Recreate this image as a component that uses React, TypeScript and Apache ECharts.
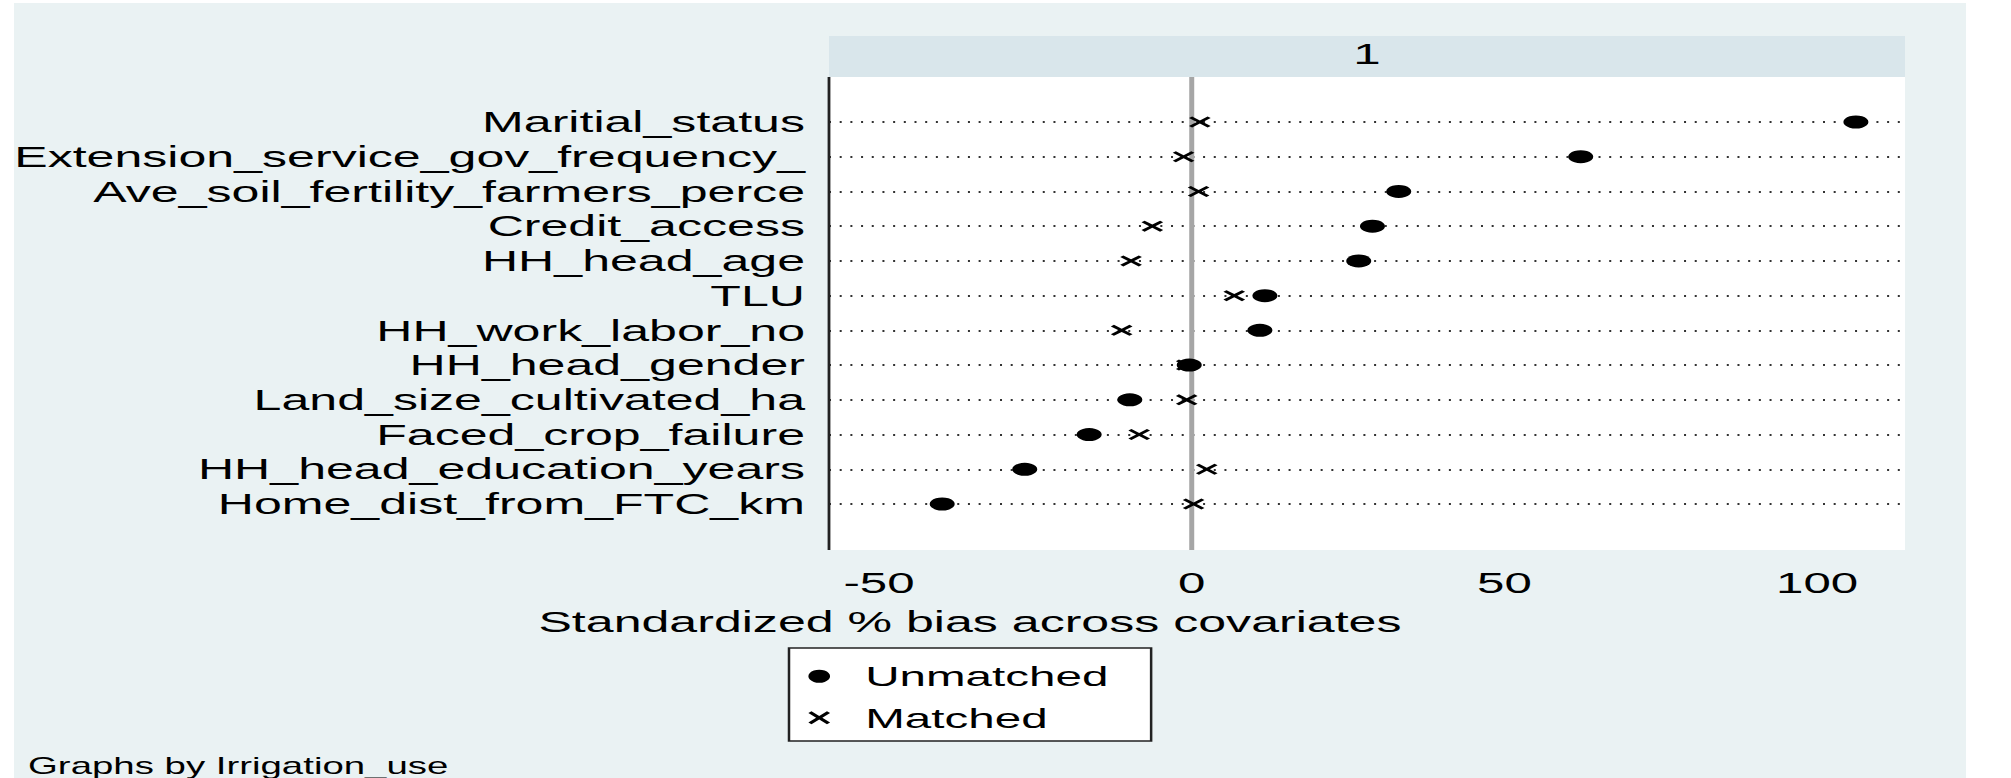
import { useEffect, useRef } from 'react';
import * as echarts from 'echarts';

// covariates, top to bottom
const covariates = [
  'Maritial_status',
  'Extension_service_gov_frequency_',
  'Ave_soil_fertility_farmers_perce',
  'Credit_access',
  'HH_head_age',
  'TLU',
  'HH_work_labor_no',
  'HH_head_gender',
  'Land_size_cultivated_ha',
  'Faced_crop_failure',
  'HH_head_education_years',
  'Home_dist_from_FTC_km',
];
// standardized % bias
const unmatched = [106.2, 62.2, 33.1, 28.9, 26.7, 11.7, 10.9, -0.4, -9.9, -16.4, -26.7, -39.9];
const matched = [1.3, -1.3, 1.1, -6.3, -9.7, 6.8, -11.2, -0.8, -0.8, -8.4, 2.4, 0.3];
const xTicks = [-50, 0, 50, 100];

// the Stata export is stretched sideways, so draw narrow and scale the box
const S = 1.67;
const W = 2011 / S;
const H = 778;
const FONT = '"Liberation Sans", Arial, sans-serif';

const plotLeft = 829 / S;
const plotRight = 1905 / S;
const plotTop = 77;
const plotBottom = 550;
const rowTop = 122;
const rowBottom = 504;

const crossPath = 'path://M0,2L2,0L7,5L12,0L14,2L9,7L14,12L12,14L7,9L2,14L0,12L5,7Z';

export default function App() {
  const chartRef = useRef<HTMLDivElement>(null);

  useEffect(() => {
    if (!chartRef.current) return;
    const chart = echarts.init(chartRef.current, undefined, { renderer: 'svg' });
    chart.setOption({
      animation: false,
      backgroundColor: '#fff',
      grid: {
        left: plotLeft,
        right: W - plotRight,
        top: rowTop,
        bottom: H - rowBottom,
        containLabel: false,
      },
      xAxis: {
        type: 'value',
        min: -58,
        max: 114,
        position: 'bottom',
        offset: plotBottom - rowBottom,
        splitLine: { show: false },
        axisLine: { lineStyle: { color: '#333', width: 2.5 } },
        axisTick: {
          customValues: xTicks,
          length: 10,
          lineStyle: { color: '#333', width: 1.2 },
        },
        axisLabel: {
          customValues: xTicks,
          fontSize: 29.5,
          fontFamily: FONT,
          color: '#000',
          margin: 18,
        },
      },
      yAxis: {
        type: 'category',
        data: covariates,
        inverse: true,
        boundaryGap: false,
        axisLine: { show: false },
        axisTick: { show: false },
        axisLabel: {
          interval: 0,
          fontSize: 30,
          fontFamily: FONT,
          color: '#000',
          margin: 24 / S,
        },
        splitLine: {
          show: true,
          lineStyle: { color: '#333', width: 2, type: [1.2, 5.2] },
        },
      },
      legend: {
        orient: 'vertical',
        left: 789 / S,
        top: 648,
        padding: [13.75, 25.5, 8.75, 11.6],
        itemGap: 12.5,
        itemWidth: 15,
        itemHeight: 13,
        backgroundColor: '#fff',
        borderColor: '#222',
        borderWidth: 1.5,
        selectedMode: false,
        textStyle: {
          fontSize: 28.5,
          fontFamily: FONT,
          color: '#000',
          lineHeight: 28.5,
          padding: [0, 0, 0, 15],
        },
        data: [
          { name: 'Unmatched', icon: 'circle' },
          { name: 'Matched', icon: crossPath },
        ],
      },
      series: [
        {
          name: 'Unmatched',
          type: 'scatter',
          symbol: 'circle',
          symbolSize: [15, 13],
          itemStyle: { color: '#000', opacity: 1 },
          data: unmatched.map((v, i) => [v, i]),
          z: 3,
        },
        {
          name: 'Matched',
          type: 'scatter',
          symbol: crossPath,
          symbolSize: [13, 11],
          itemStyle: { color: '#000', opacity: 1 },
          data: matched.map((v, i) => [v, i]),
          z: 4,
        },
      ],
      graphic: {
        elements: [
          {
            id: 'region',
            type: 'rect',
            silent: true,
            z: -3,
            shape: { x: 14 / S, y: 3, width: (1966 - 14) / S, height: H - 3 },
            style: { fill: '#EAF2F3' },
          },
          {
            id: 'header',
            type: 'rect',
            silent: true,
            z: -2,
            shape: { x: plotLeft, y: 36, width: plotRight - plotLeft, height: plotTop - 36 },
            style: { fill: '#D9E6EB' },
          },
          {
            id: 'headerText',
            type: 'text',
            silent: true,
            z: -1,
            style: {
              text: '1',
              x: (plotLeft + plotRight) / 2,
              y: 54,
              fontSize: 29.5,
              fontFamily: FONT,
              fill: '#000',
              align: 'center',
              textAlign: 'center',
              verticalAlign: 'middle',
              textVerticalAlign: 'middle',
            },
          },
          {
            id: 'plotBg',
            type: 'rect',
            silent: true,
            z: -2,
            shape: { x: plotLeft, y: plotTop, width: plotRight - plotLeft, height: plotBottom - plotTop },
            style: { fill: '#fff' },
          },
          {
            id: 'plotLeftLine',
            type: 'line',
            silent: true,
            z: 1,
            shape: { x1: plotLeft, y1: plotTop, x2: plotLeft, y2: plotBottom },
            style: { stroke: '#222', lineWidth: 2.8 / S },
          },
          {
            id: 'xTitle',
            type: 'text',
            silent: true,
            style: {
              text: 'Standardized % bias across covariates',
              x: 970 / S,
              y: 622,
              fontSize: 30,
              fontFamily: FONT,
              fill: '#000',
              align: 'center',
              textAlign: 'center',
              verticalAlign: 'middle',
              textVerticalAlign: 'middle',
            },
          },
          {
            id: 'note',
            type: 'text',
            silent: true,
            style: {
              text: 'Graphs by Irrigation_use',
              x: 28 / S,
              y: 766,
              fontSize: 23,
              fontFamily: FONT,
              fill: '#000',
              align: 'left',
              textAlign: 'left',
              verticalAlign: 'middle',
              textVerticalAlign: 'middle',
            },
          },
        ],
      },
    });

    // reference line at zero bias, full height of the plot region
    const x0 = chart.convertToPixel({ xAxisIndex: 0 }, 0) as number;
    chart.setOption({
      graphic: {
        elements: [
          {
            id: 'zeroLine',
            type: 'line',
            silent: true,
            z: 1,
            shape: { x1: x0, y1: plotTop, x2: x0, y2: plotBottom },
            style: { stroke: '#A6A6A6', lineWidth: 5 / S },
          },
        ],
      },
    });

    return () => chart.dispose();
  }, []);

  return (
    <div
      ref={chartRef}
      style={{
        position: 'absolute',
        left: 0,
        top: 0,
        width: W,
        height: H,
        transform: `scaleX(${S})`,
        transformOrigin: '0 0',
      }}
    />
  );
}
